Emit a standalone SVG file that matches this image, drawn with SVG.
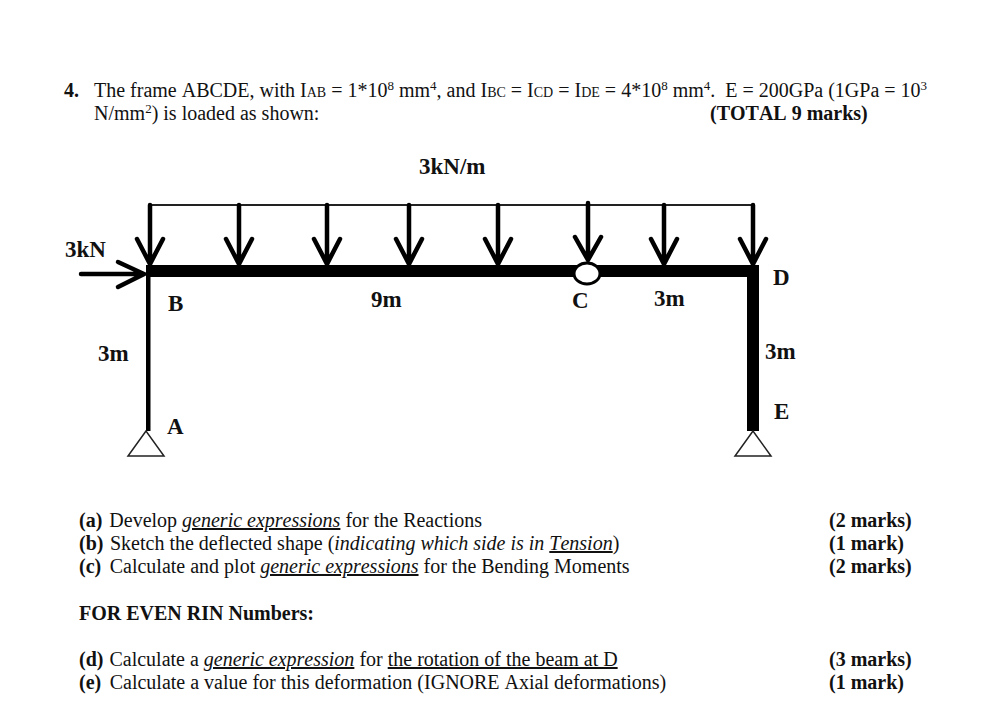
<svg xmlns="http://www.w3.org/2000/svg" width="1005" height="706" viewBox="0 0 1005 706">
<style>
text{font-family:"Liberation Serif","Times New Roman",serif;font-size:20px;fill:#111;font-kerning:none;white-space:pre}
.b{font-weight:bold}
.l{font-weight:bold;font-size:23px}
.i{font-style:italic}
.s{font-size:14px}
.sup{font-size:13px}
.load{fill:none;stroke:#000;stroke-width:4.500;stroke-linecap:round;stroke-linejoin:miter}
.top{fill:none;stroke:#222;stroke-width:2}
.sup-t{fill:#fff;stroke:#222;stroke-width:1.500}
</style>
<rect width="1005" height="706" fill="#fff"/>
<g id="question">
<text x="64" y="97" class="b">4.</text>
<text x="94" y="97">The frame ABCDE, with I<tspan class="s">AB</tspan> = 1*10<tspan class="sup" dy="-7">8</tspan><tspan dy="7"> mm</tspan><tspan class="sup" dy="-7">4</tspan><tspan dy="7">, and I</tspan><tspan class="s">BC</tspan> = I<tspan class="s">CD</tspan> = I<tspan class="s">DE</tspan> = 4*10<tspan class="sup" dy="-7">8</tspan><tspan dy="7"> mm</tspan><tspan class="sup" dy="-7">4</tspan><tspan dy="7">.  E = 200GPa (1GPa = 10</tspan><tspan class="sup" dy="-7">3</tspan></text>
<text x="94" y="120">N/mm<tspan class="sup" dy="-7">2</tspan><tspan dy="7">) is loaded as shown:</tspan></text>
<text x="710" y="120" class="b">(TOTAL 9 marks)</text>
</g>
<g id="connectors">
<g id="load">
<path class="top" d="M151 205H753"/>
<path id="a1" class="load" d="M150 205V264M137 239L150 264L163 239"/>
<path id="a2" class="load" d="M239 205V264M226 239L239 264L252 239"/>
<path id="a3" class="load" d="M327 205V264M314 239L327 264L340 239"/>
<path id="a4" class="load" d="M409 205V264M396 239L409 264L422 239"/>
<path id="a5" class="load" d="M498 205V264M485 239L498 264L511 239"/>
<path id="a6" class="load" d="M588 203V260M575 237L588 260L601 237"/>
<path id="a7" class="load" d="M664 205V264M651 239L664 264L677 239"/>
<path id="a8" class="load" d="M753 205V264M740 239L753 264L766 239"/>
</g>
<path id="force-3kN" class="load" d="M81 274H144M118 262L144 274L118 287"/>
</g>
<g id="frame">
<rect id="member-AB" x="146" y="265" width="4.500" height="166" fill="#000"/>
<rect id="member-BD" x="147" y="265" width="612" height="12" fill="#000"/>
<rect id="member-DE" x="747" y="267" width="12" height="164" fill="#000"/>
</g>
<g id="node-A"><path class="sup-t" d="M146 431L128 456H164Z"/><text x="167" y="434" class="l">A</text></g>
<g id="node-B"><text x="168" y="311" class="l">B</text></g>
<g id="node-C"><ellipse cx="587" cy="273.500" rx="13" ry="10.500" fill="#fff" stroke="#000" stroke-width="3"/><text x="572" y="308" class="l">C</text></g>
<g id="node-D"><text x="773" y="285" class="l">D</text></g>
<g id="node-E"><path class="sup-t" d="M753 431L735 456H771Z"/><text x="774" y="419" class="l">E</text></g>
<g id="labels">
<text x="419" y="174" class="l">3kN/m</text>
<text x="65" y="257" class="l">3kN</text>
<text x="98" y="361" class="l">3m</text>
<text x="371" y="307" class="l">9m</text>
<text x="654" y="306" class="l">3m</text>
<text x="765" y="359" class="l">3m</text>
</g>
<g id="parts">
<text x="79" y="527"><tspan class="b">(a)</tspan><tspan dx="2"> Develop </tspan><tspan class="i" text-decoration="underline">generic expressions</tspan> for the Reactions</text>
<text x="79" y="550"><tspan class="b">(b)</tspan><tspan dx="1.500"> Sketch the deflected shape (</tspan><tspan class="i">indicating which side is in </tspan><tspan class="i" text-decoration="underline">Tension</tspan>)</text>
<text x="79" y="573"><tspan class="b">(c)</tspan><tspan dx="3.500"> Calculate and plot </tspan><tspan class="i" text-decoration="underline">generic expressions</tspan> for the Bending Moments</text>
<text x="79" y="620" class="b">FOR EVEN RIN Numbers:</text>
<text x="79" y="666"><tspan class="b">(d)</tspan><tspan dx="1"> Calculate a </tspan><tspan class="i" text-decoration="underline">generic expression</tspan> for <tspan text-decoration="underline">the rotation of the beam at D</tspan></text>
<text x="79" y="689"><tspan class="b">(e)</tspan><tspan dx="3.500"> Calculate a value for this deformation (IGNORE Axial deformations)</tspan></text>
<text x="829" y="527" class="b">(2 marks)</text>
<text x="829" y="550" class="b">(1 mark)</text>
<text x="829" y="573" class="b">(2 marks)</text>
<text x="829" y="666" class="b">(3 marks)</text>
<text x="829" y="689" class="b">(1 mark)</text>
</g>
</svg>
